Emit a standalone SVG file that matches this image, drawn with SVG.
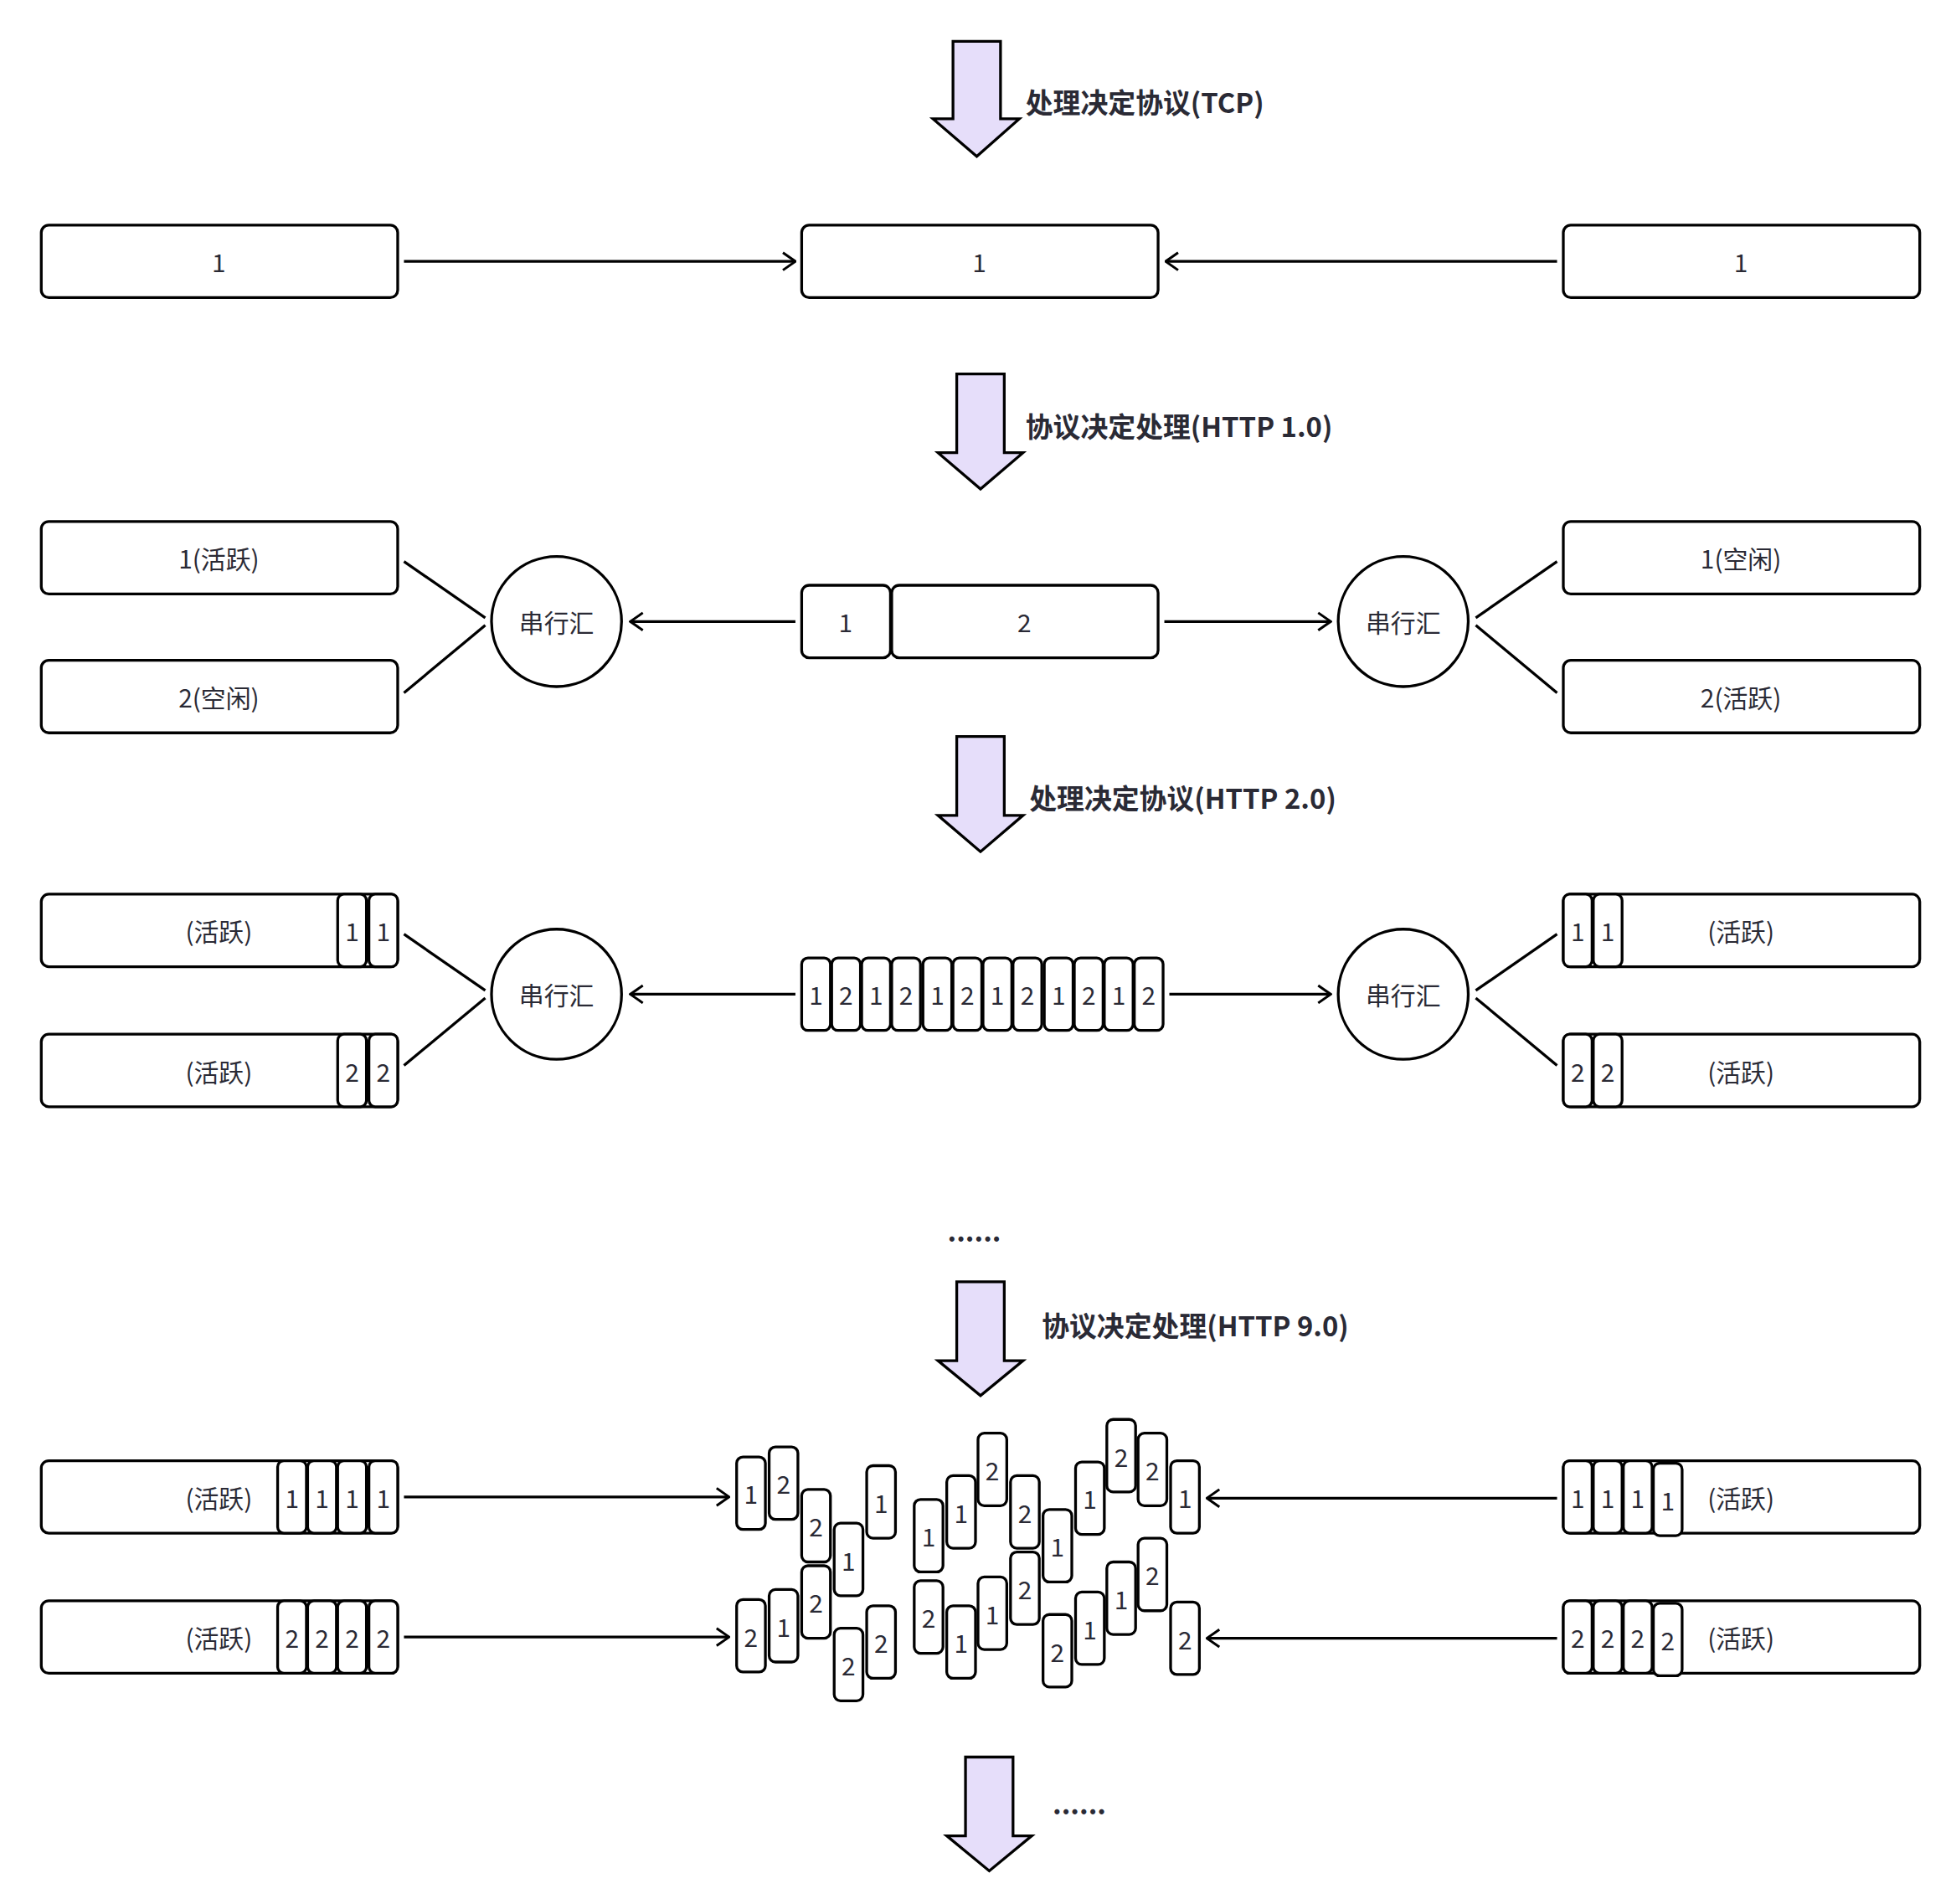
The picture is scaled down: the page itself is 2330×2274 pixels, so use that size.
<svg xmlns="http://www.w3.org/2000/svg" width="2330" height="2274" viewBox="0 0 2330 2274">
<style>
.b{fill:#fff;stroke:#000;stroke-width:2.2}
.t{font-family:"Noto Sans CJK SC","Noto Sans",sans-serif;font-size:20px;fill:#2a2a35;text-anchor:middle;dominant-baseline:central}
.h{font-family:"Noto Sans CJK SC","Noto Sans",sans-serif;font-size:22px;font-weight:bold;fill:#2a2a35;dominant-baseline:central}
.big{fill:#E6DEFA;stroke:#000;stroke-width:2.2;stroke-linejoin:miter}
.c{stroke:#000;stroke-width:2.2;fill:none}
</style>
<defs>
<marker id="a" viewBox="0 0 12 16" refX="11" refY="8" markerWidth="12" markerHeight="16" markerUnits="userSpaceOnUse" orient="auto"><path d="M1,1 L11,8 L1,15" fill="none" stroke="#000" stroke-width="2"/></marker>
<g id="s1"><rect x="0" y="0" width="23" height="58" rx="5" class="b"/><text x="11.5" y="29" class="t">1</text></g>
<g id="s2"><rect x="0" y="0" width="23" height="58" rx="5" class="b"/><text x="11.5" y="29" class="t">2</text></g>
</defs>
<rect width="2330" height="2274" fill="#fff"/>
<g transform="scale(1.4936)">
<g id="bigarrows">
<path class="big" d="M762,33 H800 V95 H815 L781,125 L746,95 H762 Z"/>
<text x="820" y="81" class="h">处理决定协议(TCP)</text>
<path class="big" d="M765,299 H803 V362 H818 L784,391 L750,362 H765 Z"/>
<text x="820" y="340" class="h">协议决定处理(HTTP 1.0)</text>
<path class="big" d="M765,589 H803 V652 H818 L784,681 L750,652 H765 Z"/>
<text x="823" y="637" class="h">处理决定协议(HTTP 2.0)</text>
<path class="big" d="M765,1025 H803 V1088 H818 L784,1116 L750,1088 H765 Z"/>
<text x="833" y="1059" class="h">协议决定处理(HTTP 9.0)</text>
<path class="big" d="M772,1405 H810 V1468 H825 L791,1496 L757,1468 H772 Z"/>
<text x="779" y="983" class="h" text-anchor="middle">......</text>
<text x="863" y="1441" class="h" text-anchor="middle">......</text>
</g>
<g id="connectors">
<line class="c" x1="323" y1="209" x2="636" y2="209" marker-end="url(#a)"/>
<line class="c" x1="1245" y1="209" x2="932" y2="209" marker-end="url(#a)"/>
<line class="c" x1="323" y1="449" x2="388" y2="494"/>
<line class="c" x1="323" y1="554" x2="388" y2="500"/>
<line class="c" x1="636" y1="497" x2="504" y2="497" marker-end="url(#a)"/>
<line class="c" x1="931" y1="497" x2="1064" y2="497" marker-end="url(#a)"/>
<line class="c" x1="1180" y1="494" x2="1245" y2="449"/>
<line class="c" x1="1180" y1="500" x2="1245" y2="554"/>
<line class="c" x1="323" y1="747" x2="388" y2="792"/>
<line class="c" x1="323" y1="852" x2="388" y2="798"/>
<line class="c" x1="636" y1="795" x2="504" y2="795" marker-end="url(#a)"/>
<line class="c" x1="935" y1="795" x2="1064" y2="795" marker-end="url(#a)"/>
<line class="c" x1="1180" y1="792" x2="1245" y2="747"/>
<line class="c" x1="1180" y1="798" x2="1245" y2="852"/>
<line class="c" x1="323" y1="1197" x2="583" y2="1197" marker-end="url(#a)"/>
<line class="c" x1="323" y1="1309" x2="583" y2="1309" marker-end="url(#a)"/>
<line class="c" x1="1245" y1="1198" x2="965" y2="1198" marker-end="url(#a)"/>
<line class="c" x1="1245" y1="1310" x2="965" y2="1310" marker-end="url(#a)"/>
</g>
<g id="row1">
<g id="r1a"><rect x="33" y="180" width="285" height="58" rx="6" class="b"/><text x="175" y="209" class="t">1</text></g>
<g id="r1b"><rect x="641" y="180" width="285" height="58" rx="6" class="b"/><text x="783" y="209" class="t">1</text></g>
<g id="r1c"><rect x="1250" y="180" width="285" height="58" rx="6" class="b"/><text x="1392" y="209" class="t">1</text></g>
</g>
<g id="row2">
<g id="r2l1"><rect x="33" y="417" width="285" height="58" rx="6" class="b"/><text x="175" y="446" class="t">1(活跃)</text></g>
<g id="r2l2"><rect x="33" y="528" width="285" height="58" rx="6" class="b"/><text x="175" y="557" class="t">2(空闲)</text></g>
<g id="r2c1"><circle cx="445" cy="497" r="52" class="b"/><text x="445" y="497" class="t">串行汇</text></g>
<g id="r2m"><rect x="641" y="468" width="71" height="58" rx="6" class="b"/><text x="676" y="497" class="t">1</text><rect x="713" y="468" width="213" height="58" rx="6" class="b"/><text x="819" y="497" class="t">2</text></g>
<g id="r2c2"><circle cx="1122" cy="497" r="52" class="b"/><text x="1122" y="497" class="t">串行汇</text></g>
<g id="r2r1"><rect x="1250" y="417" width="285" height="58" rx="6" class="b"/><text x="1392" y="446" class="t">1(空闲)</text></g>
<g id="r2r2"><rect x="1250" y="528" width="285" height="58" rx="6" class="b"/><text x="1392" y="557" class="t">2(活跃)</text></g>
</g>
<g id="row3">
<g id="r3l1"><rect x="33" y="715" width="285" height="58" rx="6" class="b"/><text x="175" y="744" class="t">(活跃)</text><use href="#s1" x="270" y="715"/><use href="#s1" x="295" y="715"/></g>
<g id="r3l2"><rect x="33" y="827" width="285" height="58" rx="6" class="b"/><text x="175" y="856" class="t">(活跃)</text><use href="#s2" x="270" y="827"/><use href="#s2" x="295" y="827"/></g>
<g id="r3c1"><circle cx="445" cy="795" r="52" class="b"/><text x="445" y="795" class="t">串行汇</text></g>
<g id="r3m">
<use href="#s1" x="641" y="766"/><use href="#s2" x="665" y="766"/><use href="#s1" x="689" y="766"/><use href="#s2" x="713" y="766"/><use href="#s1" x="738" y="766"/><use href="#s2" x="762" y="766"/><use href="#s1" x="786" y="766"/><use href="#s2" x="810" y="766"/><use href="#s1" x="835" y="766"/><use href="#s2" x="859" y="766"/><use href="#s1" x="883" y="766"/><use href="#s2" x="907" y="766"/>
</g>
<g id="r3c2"><circle cx="1122" cy="795" r="52" class="b"/><text x="1122" y="795" class="t">串行汇</text></g>
<g id="r3r1"><rect x="1250" y="715" width="285" height="58" rx="6" class="b"/><text x="1392" y="744" class="t">(活跃)</text><use href="#s1" x="1250" y="715"/><use href="#s1" x="1274" y="715"/></g>
<g id="r3r2"><rect x="1250" y="827" width="285" height="58" rx="6" class="b"/><text x="1392" y="856" class="t">(活跃)</text><use href="#s2" x="1250" y="827"/><use href="#s2" x="1274" y="827"/></g>
</g>
<g id="row4">
<g id="r4l1"><rect x="33" y="1168" width="285" height="58" rx="6" class="b"/><text x="175" y="1197" class="t">(活跃)</text><use href="#s1" x="222" y="1168"/><use href="#s1" x="246" y="1168"/><use href="#s1" x="270" y="1168"/><use href="#s1" x="295" y="1168"/></g>
<g id="r4l2"><rect x="33" y="1280" width="285" height="58" rx="6" class="b"/><text x="175" y="1309" class="t">(活跃)</text><use href="#s2" x="222" y="1280"/><use href="#s2" x="246" y="1280"/><use href="#s2" x="270" y="1280"/><use href="#s2" x="295" y="1280"/></g>
<g id="r4r1"><rect x="1250" y="1168" width="285" height="58" rx="6" class="b"/><text x="1392" y="1197" class="t">(活跃)</text><use href="#s1" x="1250" y="1168"/><use href="#s1" x="1274" y="1168"/><use href="#s1" x="1298" y="1168"/><use href="#s1" x="1322" y="1170"/></g>
<g id="r4r2"><rect x="1250" y="1280" width="285" height="58" rx="6" class="b"/><text x="1392" y="1309" class="t">(活跃)</text><use href="#s2" x="1250" y="1280"/><use href="#s2" x="1274" y="1280"/><use href="#s2" x="1298" y="1280"/><use href="#s2" x="1322" y="1282"/></g>
<g id="scatter">
<use href="#s1" x="589" y="1165"/><use href="#s2" x="615" y="1157"/><use href="#s2" x="641" y="1191"/><use href="#s1" x="667" y="1218"/><use href="#s1" x="693" y="1172"/>
<use href="#s1" x="731" y="1199"/><use href="#s1" x="757" y="1180"/><use href="#s2" x="782" y="1146"/><use href="#s2" x="808" y="1180"/><use href="#s1" x="834" y="1207"/><use href="#s1" x="860" y="1169"/><use href="#s2" x="885" y="1135"/><use href="#s2" x="910" y="1146"/><use href="#s1" x="936" y="1168"/>
<use href="#s2" x="589" y="1279"/><use href="#s1" x="615" y="1271"/><use href="#s2" x="641" y="1252"/><use href="#s2" x="667" y="1302"/><use href="#s2" x="693" y="1284"/>
<use href="#s2" x="731" y="1264"/><use href="#s1" x="757" y="1284"/><use href="#s1" x="782" y="1261"/><use href="#s2" x="808" y="1241"/><use href="#s2" x="834" y="1291"/><use href="#s1" x="860" y="1273"/><use href="#s1" x="885" y="1249"/><use href="#s2" x="910" y="1230"/><use href="#s2" x="936" y="1281"/>
</g>
</g>
</g>
</svg>
